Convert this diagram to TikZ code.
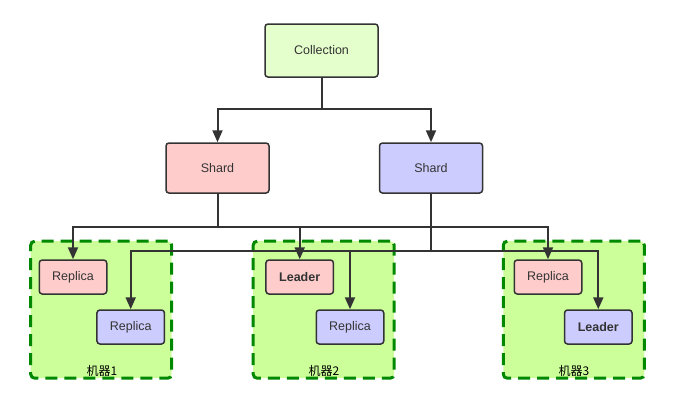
\documentclass[tikz,border=0pt]{standalone}
\usepackage{fontspec}
\setmainfont{Liberation Sans}
\newfontfamily\cjk{Noto Sans CJK SC}
\usetikzlibrary{arrows.meta}
\definecolor{edgec}{HTML}{333333}
\definecolor{collfill}{HTML}{E5FFCC}
\definecolor{pinkfill}{HTML}{FFCCCC}
\definecolor{bluefill}{HTML}{CCCCFF}
\definecolor{machfill}{HTML}{CCFF99}
\definecolor{machline}{HTML}{008800}
\tikzset{
  box/.style={draw=edgec, line width=1.5pt, rounded corners=3pt, text=edgec,
    font=\fontsize{12.5}{14}\selectfont, inner sep=0pt},
  collbox/.style={box, fill=collfill, minimum width=113pt, minimum height=53pt},
  shardbox/.style={box, minimum width=103pt, minimum height=50pt},
  repbox/.style={box, minimum width=67.5pt, minimum height=34pt},
  machine/.style={draw=machline, fill=machfill, line width=3pt, rounded corners=4pt,
    dash pattern=on 12pt off 7pt, minimum width=141pt, minimum height=137pt, inner sep=0pt},
  machlabel/.style={font=\cjk\fontsize{12}{14}\selectfont, text=black, anchor=base},
  conn/.style={draw=edgec, line width=2pt, -{Triangle[length=12pt,width=10pt]}},
}
\begin{document}
\begin{tikzpicture}[x=1pt,y=-1pt]
\useasboundingbox (0,0) rectangle (675,408);
% machines
\node[machine] (m1) at (101.2,309.7) {};
\node[machine] (m2) at (323.7,309.7) {};
\node[machine] (m3) at (573.8,309.7) {};
\node[machlabel] (l1) at (102,375) {机器1};
\node[machlabel] (l2) at (324,375) {机器2};
\node[machlabel] (l3) at (574,375) {机器3};
% nodes
\node[collbox] (coll) at (321.5,50.5) {Collection};
\node[shardbox, fill=pinkfill] (sA) at (217.5,168) {Shard};
\node[shardbox, fill=bluefill] (sB) at (431,168) {Shard};
\node[repbox, fill=pinkfill] (r1a) at (73,277) {Replica};
\node[repbox, fill=bluefill] (r1b) at (130.7,327) {Replica};
\node[repbox, fill=pinkfill] (r2a) at (299.7,277) {\textbf{Leader}};
\node[repbox, fill=bluefill] (r2b) at (350,327) {Replica};
\node[repbox, fill=pinkfill] (r3a) at (548,277) {Replica};
\node[repbox, fill=bluefill] (r3b) at (598.3,327) {\textbf{Leader}};
% junction levels
\coordinate (h0) at (0,109);
\coordinate (hA) at (0,227);
\coordinate (hB) at (0,251.3);
% connectors
\draw[conn] (coll.south) -- (coll.south |- h0) -| (sA.north);
\draw[conn] (coll.south) -- (coll.south |- h0) -| (sB.north);
\draw[conn] (sA.south) -- (sA.south |- hA) -| (r1a.north);
\draw[conn] (sA.south) -- (sA.south |- hA) -| (r2a.north);
\draw[conn] (sA.south) -- (sA.south |- hA) -| (r3a.north);
\draw[conn] (sB.south) -- (sB.south |- hB) -| (r1b.north);
\draw[conn] (sB.south) -- (sB.south |- hB) -| (r2b.north);
\draw[conn] (sB.south) -- (sB.south |- hB) -| (r3b.north);
\end{tikzpicture}
\end{document}
